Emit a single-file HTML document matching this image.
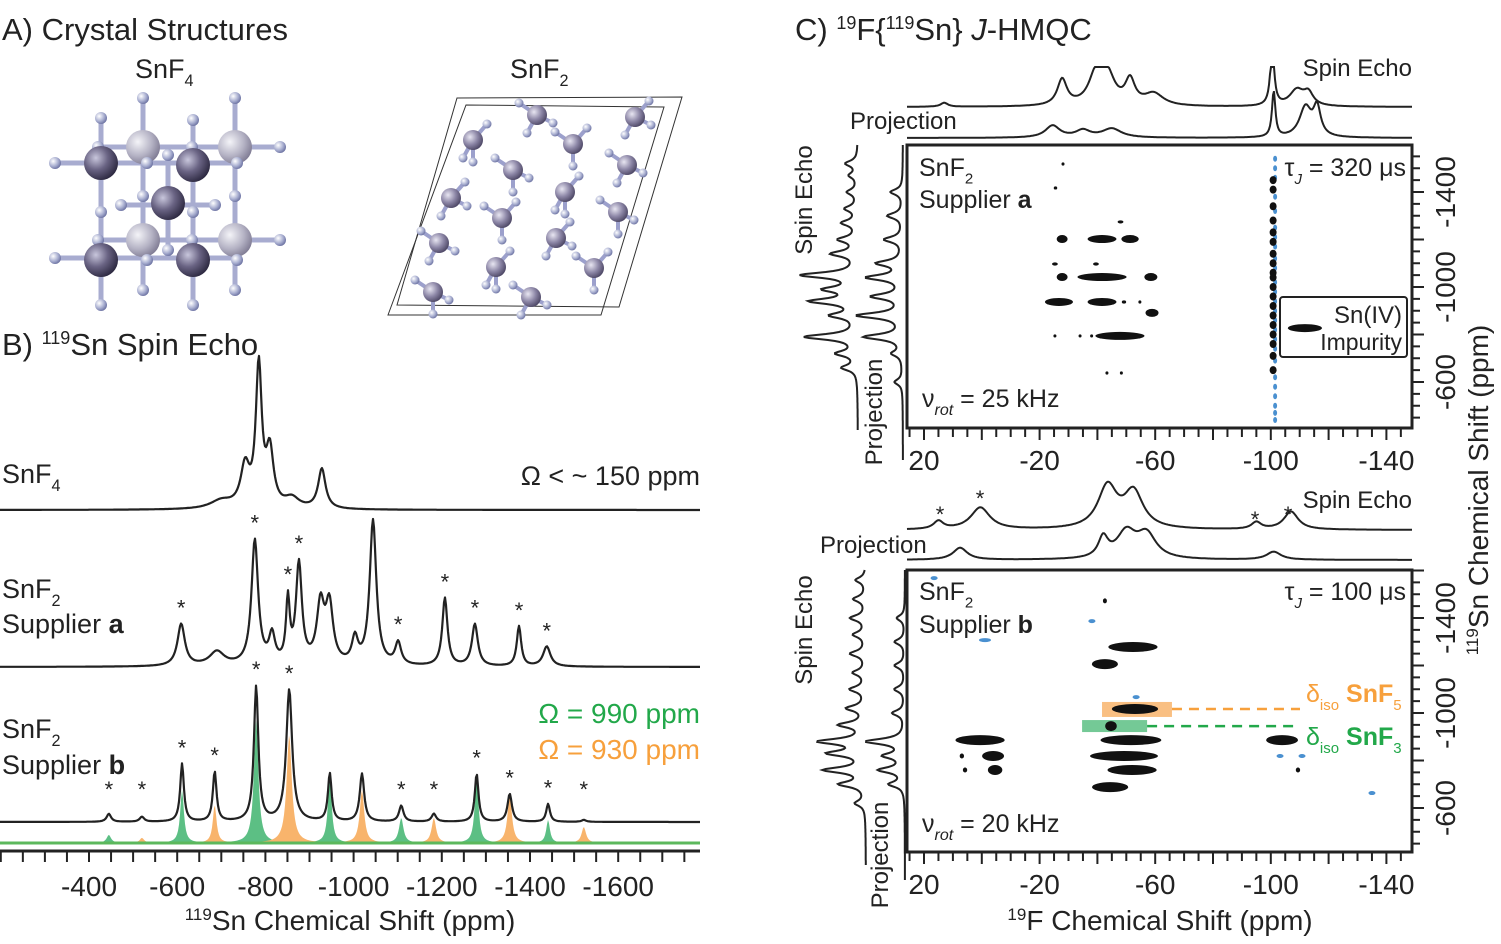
<!DOCTYPE html>
<html><head><meta charset="utf-8"><style>
html,body{margin:0;padding:0;background:#fff}
svg{display:block;font-family:"Liberation Sans",sans-serif}
</style></head><body>
<svg id="fig" width="1501" height="944" viewBox="0 0 1501 944" xmlns="http://www.w3.org/2000/svg">
<defs>
<radialGradient id="gDark" cx="35%" cy="35%" r="70%"><stop offset="0" stop-color="#c8c6dc"/><stop offset="0.5" stop-color="#6a6484"/><stop offset="1" stop-color="#2c2840"/></radialGradient>
<radialGradient id="gLight" cx="35%" cy="35%" r="70%"><stop offset="0" stop-color="#f4f4f8"/><stop offset="0.6" stop-color="#b4b2c4"/><stop offset="1" stop-color="#807c94"/></radialGradient>
<radialGradient id="gMid" cx="35%" cy="35%" r="70%"><stop offset="0" stop-color="#e8e6f2"/><stop offset="0.55" stop-color="#8c86a6"/><stop offset="1" stop-color="#4c4664"/></radialGradient>
<radialGradient id="gF" cx="35%" cy="35%" r="70%"><stop offset="0" stop-color="#ffffff"/><stop offset="0.6" stop-color="#a8aed0"/><stop offset="1" stop-color="#6a70a0"/></radialGradient>
</defs>
<g id="panelA"></g>
<g id="panelB"></g>
<g id="panelC"></g>
</svg>
<script>
// ---------- Panel B data (119Sn spectra) ----------
const bTicks = [-400,-600,-800,-1000,-1200,-1400,-1600];
const snf4Pos = [-785,-754,-810,-928,-700,-860];
const snf4Amp = [140,40,55,40,8,10];
const snf4Wid = [8,12,10,10,30,20];
const supAPos = [-609,-776,-815,-851,-876,-925,-945,-1003,-1044,-1101,-1207,-1275,-1375,-1438,-690];
const supAAmp = [42,125,28,62,100,58,58,25,145,22,68,42,40,20,14];
const supAWid = [10,9,8,5,8,10,10,8,9,8,7,8,6,10,20];
const supBPos = [-445,-520,-611,-685,-779,-854,-946,-1019,-1108,-1182,-1279,-1354,-1441,-1522];
const supBAmp = [8,5,58,50,135,132,48,48,16,8,48,28,18,2];
const supBWid = [6,6,5,5,6,8,5,6,6,6,5,6,5,6];
const greenPos = [-445,-611,-779,-946,-1108,-1279,-1441];
const greenAmp = [8,53,123,68,25,68,23];
const orangePos = [-520,-685,-854,-1019,-1182,-1354,-1522];
const orangeAmp = [5,38,108,53,25,48,16];
const starsA = [-609,-776,-851,-876,-1101,-1207,-1275,-1375,-1438];
const starsB = [-445,-520,-611,-685,-779,-854,-1108,-1182,-1279,-1354,-1441,-1522];

// ---------- Panel C data ----------
const fTicks = [20,-20,-60,-100,-140];
const snTicks = [-1400,-1000,-600];
const topF = [-27.8,-41.6,-51.3,-48,-25.3,-39.5,-27.8,-41.6,-58.5,-26.7,-41.6,-49.2,-54.7,-58.9,-47.8,-25.3,-34,-38,-43.3,-48.3,-28.1,-25.5,-111.8];
const topD = [-1202,-1202,-1202,-1274,-1097,-1097,-1042,-1042,-1042,-937,-937,-937,-937,-891,-794,-794,-794,-794,-638,-638,-1518,-1417,-827];
const topW = [3.8,10,6,2,2,2,3.8,17,4.5,9.7,10,1.5,1,4.5,17,1,1,1,1,1,0.6,1.2,11.8];
const topColD = [-1450,-1410,-1340,-1280,-1230,-1190,-1140,-1100,-1060,-1040,-1000,-960,-920,-880,-840,-800,-760,-710,-650];
const topBlueD = [-1540,-1500,-1460,-1380,-1320,-1250,-1210,-1170,-1120,-1080,-1020,-980,-940,-900,-860,-820,-780,-740,-690,-620,-580,-540,-500,-470,-440];
const topColF = -100.8;
const botF = [-42.6,-52.3,-42.6,-53,-44.7,0.6,-51.6,-103.9,6.9,-3.9,-49.2,5.8,-4.6,-52,-109.4,-44.4];
const botD = [-1472,-1278,-1206,-1017,-945,-886,-886,-886,-819,-819,-819,-760,-760,-760,-760,-688];
const botW = [0.6,17,9,16,4,17,21,11,1.5,7.6,23.5,1.5,5,17,1.5,12.5];
const botBlueF = [-38.1,-1.1,-53.4,-103.2,-110.8,-135,16.5];
const botBlueD = [-1387,-1307,-1067,-819,-819,-663,-1568];
const seTopF = [13,-27.8,-39.5,-43.5,-51.3,-59.5,-100.5,-109,-113];
const seTopA = [4,26,30,28,24,12,60,16,12];
const seTopW = [1.5,2,3,3,2,4,0.8,3,2];
const prTopF = [-24.5,-35,-45,-101,-112,-116];
const prTopA = [12,7,9,46,30,28];
const prTopW = [3,3,4,0.7,2.5,1.5];
const seBotF = [15,0.5,-43.5,-52.5,-95,-107];
const seBotA = [8,22,42,36,7,18];
const seBotW = [2,4,4,4,2,3];
const prBotF = [7.5,-42,-50,-57,-101];
const prBotA = [12,20,26,24,8];
const prBotW = [3,2,4,4,3];
const seLTopD = [-1520,-1470,-1400,-1330,-1270,-1200,-1140,-1050,-990,-940,-880,-790,-720,-660];
const seLTopA = [12,8,10,12,15,18,25,55,30,45,25,52,20,15];
const prLTopD = [-1400,-1300,-1200,-1100,-1040,-960,-880,-790,-720,-600];
const prLTopA = [12,15,18,25,35,30,45,38,10,8];
const seLBotD = [-1560,-1480,-1400,-1330,-1250,-1170,-1100,-1020,-950,-880,-830,-760,-700,-620];
const seLBotA = [10,12,15,12,15,12,15,18,25,45,35,40,25,10];
const prLBotD = [-1400,-1300,-1200,-1100,-1000,-880,-820,-760,-700];
const prLBotA = [8,10,10,10,12,38,20,25,15];

const NS="http://www.w3.org/2000/svg";
function mk(parent,tag,attrs,text){const e=document.createElementNS(NS,tag);for(const k in attrs)e.setAttribute(k,attrs[k]);if(text!==undefined)e.textContent=text;parent.appendChild(e);return e;}
function lor(pos,amp,wid,p){let s=0;for(let i=0;i<pos.length;i++){const d=(p-pos[i])/wid[i];s+=amp[i]/(1+d*d);}return s;}
const A=document.getElementById('panelA'),B=document.getElementById('panelB'),C=document.getElementById('panelC');

// ---------- Panel A ----------
let t=mk(A,'text',{x:2,y:40,'font-size':31,fill:'#222'},'A) Crystal Structures');


function sub(parent,x,y,base,subs,size,name){const e=mk(parent,'text',{x:x,y:y,'font-size':size,fill:'#222'});mk(e,'tspan',{},base);mk(e,'tspan',{dy:size*0.3,'font-size':size*0.6},subs);return e;}
sub(A,135,78,'SnF','4',27,'snf4-label');
sub(A,510,78,'SnF','2',27,'snf2-label');
const g4=mk(A,'g',{});


const f4=[[143,98],[235,98],[101,118],[193,120],[55,163],[237,163],[147,163],[280,147],[192,147],[98,147],[121,205],[215,205],[168,155],[193,212],[101,212],[143,196],[235,196],[55,258],[280,240],[147,260],[237,260],[168,250],[98,240],[192,240],[143,290],[235,290],[101,305],[193,305]];
const b4=[[143,98,143,290],[235,98,235,290],[101,118,101,305],[193,120,193,305],[55,163,237,163],[55,258,237,258],[98,147,280,147],[98,240,280,240],[121,205,215,205],[168,155,168,250]];
b4.forEach(b=>mk(g4,'line',{x1:b[0],y1:b[1],x2:b[2],y2:b[3],stroke:'#a8acd0','stroke-width':5}));
[[143,147],[235,147],[143,240],[235,240]].forEach(a=>mk(g4,'circle',{cx:a[0],cy:a[1],r:17,fill:'url(#gLight)'}));
f4.forEach(a=>mk(g4,'circle',{cx:a[0],cy:a[1],r:6,fill:'url(#gF)'}));
[[101,163],[193,165],[168,203],[101,260],[193,260]].forEach(a=>mk(g4,'circle',{cx:a[0],cy:a[1],r:17,fill:'url(#gDark)'}));
const g2=mk(A,'g',{});


mk(g2,'polygon',{points:'388,315 466,105 664,107 601,315',fill:'none',stroke:'#333','stroke-width':1});
mk(g2,'polygon',{points:'397,305 457,98 682,97 619,307',fill:'none',stroke:'#333','stroke-width':1});
const sn2=[[537,115],[635,117],[473,140],[573,144],[513,170],[627,165],[451,198],[565,192],[502,218],[618,212],[439,243],[556,238],[496,267],[594,268],[433,292],[531,297]];
const off=[[-18,-12],[16,8],[-10,18],[14,-16],[0,22]];
sn2.forEach((a,i)=>{for(let k=0;k<3;k++){const o=off[(i+k)%5];mk(g2,'line',{x1:a[0],y1:a[1],x2:a[0]+o[0],y2:a[1]+o[1],stroke:'#9ca0cc','stroke-width':4});mk(g2,'circle',{cx:a[0]+o[0],cy:a[1]+o[1],r:4.5,fill:'url(#gF)'});}});
sn2.forEach(a=>mk(g2,'circle',{cx:a[0],cy:a[1],r:10,fill:'url(#gMid)'}));

// ---------- Panel B ----------
const bx=p=>89+(-400-p)*0.441;
t=mk(B,'text',{x:2,y:355,'font-size':31,fill:'#222'});


t.innerHTML='B) <tspan dy="-11" font-size="18">119</tspan><tspan dy="11">Sn Spin Echo</tspan>';
function bTrace(pos,amp,wid,base,name,col,fill){let d='';for(let x=0;x<=700;x+=1){const p=-400-(x-89)/0.441;const y=base-lor(pos,amp,wid,p);d+=(x?'L':'M')+x+','+y.toFixed(1);}if(fill)d+='L700,'+base+'L0,'+base+'Z';const e=mk(B,'path',{d:d,fill:fill?col:'none',stroke:fill?'none':col,'stroke-width':2.2,'stroke-linejoin':'round'});return e;}
const gW=[6,5,6,5,6,5,5], oW=[6,5,7,6,6,6,6];
bTrace(greenPos,greenAmp,gW,843,'green-fit-snf3','#5cbf84',true);
bTrace(orangePos,orangeAmp,oW,843,'orange-fit-snf5','#f8b46c',true);
mk(B,'line',{x1:0,y1:843,x2:700,y2:843,stroke:'#5cb85c','stroke-width':3});
bTrace(snf4Pos,snf4Amp,snf4Wid,510,'snf4-spectrum','#222',false);
bTrace(supAPos,supAAmp,supAWid,667,'supplier-a-spectrum','#222',false);
bTrace(supBPos,supBAmp,supBWid,822,'supplier-b-spectrum','#222',false);
function star(x,y,n){const e=mk(B,'text',{x:x,y:y,'font-size':22,'text-anchor':'middle',fill:'#222'},'*');}
starsA.forEach(p=>star(bx(p),667-lor(supAPos,supAAmp,supAWid,p)-8,'sideband-star-a'));
starsB.forEach(p=>star(bx(p),Math.min(822-lor(supBPos,supBAmp,supBWid,p),805)-8,'sideband-star-b'));
mk(B,'line',{x1:0,y1:851,x2:700,y2:851,stroke:'#222','stroke-width':3});
for(let p=-200;p>=-1800;p-=50){const x=bx(p);if(x<0||x>700)continue;mk(B,'line',{x1:x,y1:851,x2:x,y2:862,stroke:'#222','stroke-width':2});}
bTicks.forEach(p=>{const e=mk(B,'text',{x:bx(p),y:896,'font-size':28,'text-anchor':'middle',fill:'#222'},String(p));});
t=mk(B,'text',{x:350,y:930,'font-size':28,'text-anchor':'middle',fill:'#222'});


t.innerHTML='<tspan dy="-10" font-size="17">119</tspan><tspan dy="10">Sn Chemical Shift (ppm)</tspan>';
sub(B,2,483,'SnF','4',27,'snf4-trace-label');
sub(B,2,598,'SnF','2',27,'snf2-a-label');
t=mk(B,'text',{x:2,y:633,'font-size':27,fill:'#222'});t.innerHTML='Supplier <tspan font-weight="bold">a</tspan>';


sub(B,2,738,'SnF','2',27,'snf2-b-label');
t=mk(B,'text',{x:2,y:774,'font-size':27,fill:'#222'});t.innerHTML='Supplier <tspan font-weight="bold">b</tspan>';


t=mk(B,'text',{x:700,y:485,'font-size':27,'text-anchor':'end',fill:'#222'},'Ω < ~ 150 ppm');


t=mk(B,'text',{x:700,y:723,'font-size':28,'text-anchor':'end',fill:'#22a84a'},'Ω = 990 ppm');


t=mk(B,'text',{x:700,y:759,'font-size':28,'text-anchor':'end',fill:'#f7a03c'},'Ω = 930 ppm');



// ---------- Panel C ----------
const fx=f=>924+(20-f)*2.89;
const sy1=d=>192+(d+1400)*0.2375;
const sy2=d=>618+(d+1400)*0.2375;
t=mk(C,'text',{x:795,y:40,'font-size':31,fill:'#222'});


t.innerHTML='C) <tspan dy="-11" font-size="18">19</tspan><tspan dy="11">F{</tspan><tspan dy="-11" font-size="18">119</tspan><tspan dy="11">Sn}  </tspan><tspan font-style="italic">J</tspan>-HMQC';
function hTrace(pos,amp,wid,base,name,clip){let d='';for(let x=907;x<=1412;x++){const f=20-(x-924)/2.89;let y=base-lor(pos,amp,wid,f);if(clip)y=Math.max(y,clip);d+=(x>907?'L':'M')+x+','+y.toFixed(1);}const e=mk(C,'path',{d:d,fill:'none',stroke:'#222','stroke-width':2});}
function vTrace(pos,amp,base,sy,y0,y1,name){const w=pos.map(()=>14);let d='';for(let y=y0;y<=y1;y++){const dd=-1400+(y-sy(-1400))/0.2375;const x=base-lor(pos,amp,w,dd);d+=(y>y0?'L':'M')+x.toFixed(1)+','+y;}const e=mk(C,'path',{d:d,fill:'none',stroke:'#222','stroke-width':2});}
function label(x,y,txt,size,name,anchor,rot){const a={x:x,y:y,'font-size':size,fill:'#222'};if(anchor)a['text-anchor']=anchor;if(rot)a.transform='rotate(-90 '+x+' '+y+')';const e=mk(C,'text',a,txt);return e;}
function box(y0,y1,sy,name){const e=mk(C,'rect',{x:907,y:y0,width:505,height:y1-y0,fill:'none',stroke:'#222','stroke-width':3});
 for(let f=25;f>=-145;f-=5){const x=fx(f);mk(C,'line',{x1:x,y1:y1,x2:x,y2:y1+(f%20===0?12:9),stroke:'#222','stroke-width':2});}
 fTicks.forEach(f=>label(fx(f),y1+42,String(f),28,'f-tick-label','middle'));
 for(let d=-1600;d<=-400;d+=50){const y=sy(d);if(y<y0||y>y1)continue;mk(C,'line',{x1:1412,y1:y,x2:d%200===0?1424:1420,y2:y,stroke:'#222','stroke-width':2});}
 snTicks.forEach(d=>label(1455,sy(d),String(d),28,'sn-tick-label','middle',true));}
hTrace(seTopF,seTopA,seTopW,107,'top-spin-echo-f',67);
hTrace(prTopF,prTopA,prTopW,138,'top-projection-f');
label(1412,76,'Spin Echo',24,'top-spin-echo-label','end');
label(850,129,'Projection',24,'top-projection-label');
vTrace(seLTopD,seLTopA,858,sy1,145,430,'top-spin-echo-sn');
vTrace(prLTopD,prLTopA,903,sy1,145,460,'top-projection-sn');
label(812,200,'Spin Echo',24,'left-spin-echo-label-top','middle',true);
label(882,412,'Projection',24,'left-projection-label-top','middle',true);
box(145,428,sy1,'top-hmqc-box');
topBlueD.forEach(d=>{const e=mk(C,'ellipse',{cx:fx(topColF)+2,cy:sy1(d),rx:2,ry:3,fill:'#4a90d0'});});
topColD.forEach(d=>{const e=mk(C,'ellipse',{cx:fx(topColF),cy:sy1(d),rx:3.5,ry:4,fill:'#111'});});
topF.forEach((f,i)=>{const e=mk(C,'ellipse',{cx:fx(f),cy:sy1(topD[i]),rx:Math.max(1.5,topW[i]*2.89/2),ry:topW[i]>2?4:1.6,fill:'#111'});});
const lg=mk(C,'rect',{x:1280,y:297,width:127,height:60,rx:3,fill:'none',stroke:'#222','stroke-width':2});


label(1402,323,'Sn(IV)',24,'sn-iv-label','end');
label(1402,350,'Impurity',23,'impurity-label','end');
sub(C,919,176,'SnF','2',25,'snf2-a-label-c');
t=label(919,208,'',25,'supplier-a-label-c');t.innerHTML='Supplier <tspan font-weight="bold">a</tspan>';
t=label(1406,176,'',25,'tau-320-label','end');t.innerHTML='τ<tspan dy="8" font-size="15" font-style="italic">J</tspan><tspan dy="-8"> = 320 μs</tspan>';
t=label(922,407,'',25,'vrot-25-label');t.innerHTML='ν<tspan dy="8" font-size="16" font-style="italic">rot</tspan><tspan dy="-8"> = 25 kHz</tspan>';
hTrace(seBotF,seBotA,seBotW,530,'bottom-spin-echo-f');
hTrace(prBotF,prBotA,prBotW,560,'bottom-projection-f');
label(1412,508,'Spin Echo',24,'bottom-spin-echo-label','end');
label(820,553,'Projection',24,'bottom-projection-label');
label(1288,522,'*',22,'star-c1','middle');label(1255,527,'*',22,'star-c2','middle');label(980,506,'*',22,'star-c3','middle');label(940,522,'*',22,'star-c4','middle');
vTrace(seLBotD,seLBotA,866,sy2,570,865,'bottom-spin-echo-sn');
vTrace(prLBotD,prLBotA,905,sy2,570,880,'bottom-projection-sn');
label(812,630,'Spin Echo',24,'left-spin-echo-label-bottom','middle',true);
label(888,855,'Projection',24,'left-projection-label-bottom','middle',true);
box(570,852,sy2,'bottom-hmqc-box');
let r=mk(C,'rect',{x:fx(-41.6),y:sy2(-1017)-7,width:fx(-65.8)-fx(-41.6),height:15,fill:'#f8b46c',opacity:0.85});


r=mk(C,'rect',{x:fx(-34.7),y:sy2(-945)-6,width:fx(-57.2)-fx(-34.7),height:12,fill:'#5cbf84',opacity:0.85});


botBlueF.forEach((f,i)=>{const e=mk(C,'ellipse',{cx:fx(f),cy:sy2(botBlueD[i]),rx:f===-1.1?6:3.5,ry:2,fill:'#4a90d0'});});
botF.forEach((f,i)=>{const e=mk(C,'ellipse',{cx:fx(f),cy:sy2(botD[i]),rx:Math.max(2,botW[i]*2.89/2),ry:botW[i]>2?5:2.5,fill:'#111'});});
let dl=mk(C,'line',{x1:fx(-65.8),y1:sy2(-1017),x2:1300,y2:sy2(-1017),stroke:'#f7a03c','stroke-width':2.5,'stroke-dasharray':'10,7'});


dl=mk(C,'line',{x1:fx(-57.2),y1:sy2(-945),x2:1300,y2:sy2(-945),stroke:'#22a84a','stroke-width':2.5,'stroke-dasharray':'10,7'});


t=label(1306,702,'',25,'delta-iso-snf5');t.setAttribute('fill','#f7a03c');t.innerHTML='δ<tspan dy="8" font-size="15">iso</tspan><tspan dy="-8" font-weight="bold"> SnF</tspan><tspan dy="8" font-size="15">5</tspan>';
t=label(1306,745,'',25,'delta-iso-snf3');t.setAttribute('fill','#22a84a');t.innerHTML='δ<tspan dy="8" font-size="15">iso</tspan><tspan dy="-8" font-weight="bold"> SnF</tspan><tspan dy="8" font-size="15">3</tspan>';
sub(C,919,600,'SnF','2',25,'snf2-b-label-c');
t=label(919,633,'',25,'supplier-b-label-c');t.innerHTML='Supplier <tspan font-weight="bold">b</tspan>';
t=label(1406,600,'',25,'tau-100-label','end');t.innerHTML='τ<tspan dy="8" font-size="15" font-style="italic">J</tspan><tspan dy="-8"> = 100 μs</tspan>';
t=label(922,832,'',25,'vrot-20-label');t.innerHTML='ν<tspan dy="8" font-size="16" font-style="italic">rot</tspan><tspan dy="-8"> = 20 kHz</tspan>';
t=label(1160,930,'',28,'x-axis-title-f','middle');t.innerHTML='<tspan dy="-10" font-size="17">19</tspan><tspan dy="10">F Chemical Shift (ppm)</tspan>';
t=label(1488,490,'',28,'y-axis-title-sn','middle',true);t.innerHTML='<tspan dy="-10" font-size="17">119</tspan><tspan dy="10">Sn Chemical Shift (ppm)</tspan>';
</script>
</body></html>
